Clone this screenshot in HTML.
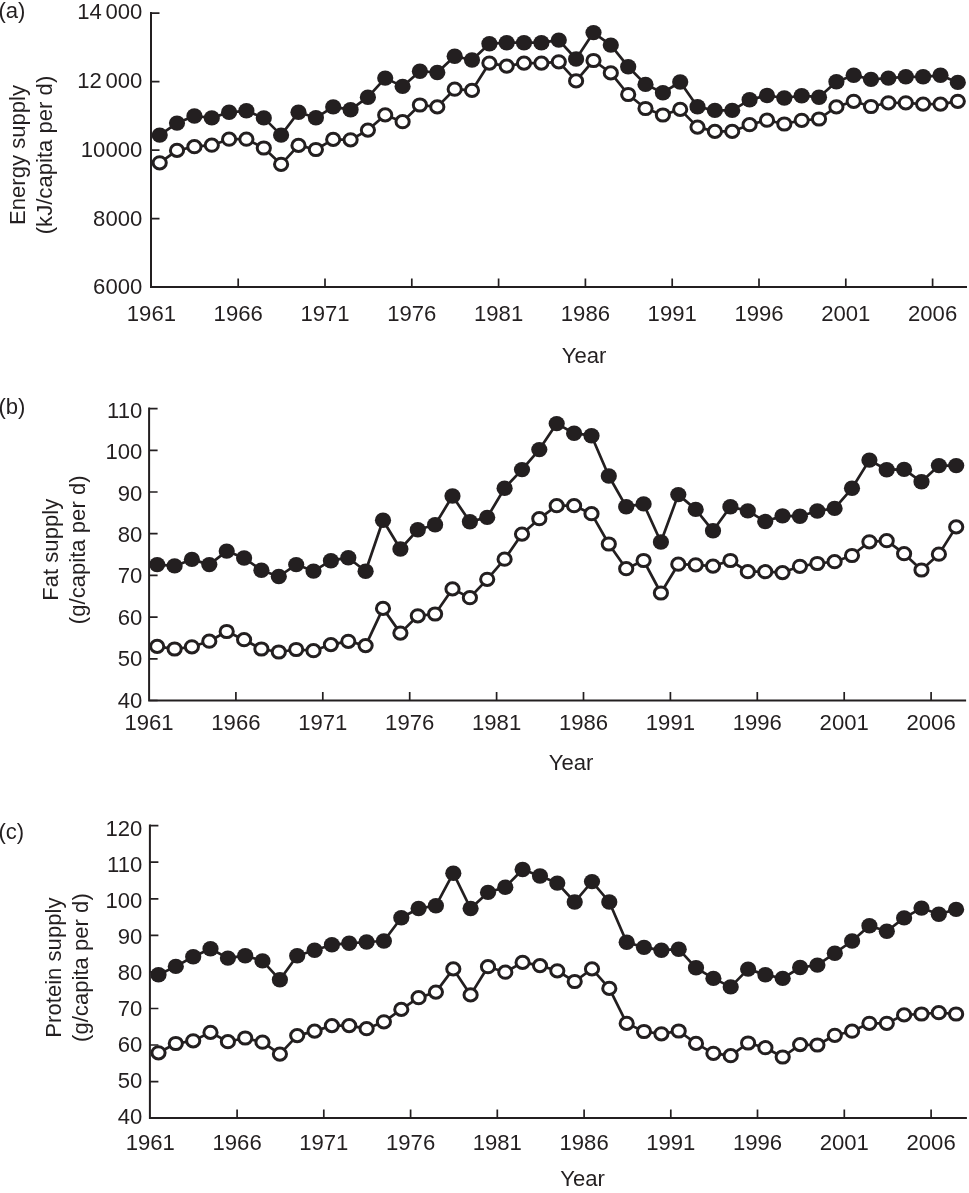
<!DOCTYPE html>
<html><head><meta charset="utf-8"><title>Energy, fat and protein supply 1961-2007</title>
<style>
html,body{margin:0;padding:0;background:#fff;}
body{width:969px;height:1193px;overflow:hidden;}
svg{display:block;}
text{font-family:"Liberation Sans", Arial, Helvetica, sans-serif;font-size:22.8px;fill:#231f20;}
</style></head><body>
<svg width="969" height="1193" viewBox="0 0 969 1193">
<rect width="969" height="1193" fill="#fff"/>
<g id="panel-a">
<path d="M151 12.1V287.1H967" fill="none" stroke="#231f20" stroke-width="2"/>
<path d="M151 13.1H159.5M151 81.6H159.5M151 150.1H159.5M151 218.6H159.5M151 287.1H159.5" stroke="#231f20" stroke-width="1.7"/>
<path d="M238.2 287.1V278.6M325 287.1V278.6M411.8 287.1V278.6M498.6 287.1V278.6M585.4 287.1V278.6M672.2 287.1V278.6M759 287.1V278.6M845.8 287.1V278.6M932.6 287.1V278.6" stroke="#231f20" stroke-width="1.7"/>
<text transform="translate(142.3 19) scale(0.97 1)" text-anchor="end">14 000</text>
<text transform="translate(142.3 87.8) scale(0.97 1)" text-anchor="end">12 000</text>
<text transform="translate(142.3 156.7) scale(0.97 1)" text-anchor="end">10000</text>
<text transform="translate(142.3 225.5) scale(0.97 1)" text-anchor="end">8000</text>
<text transform="translate(142.3 294.4) scale(0.97 1)" text-anchor="end">6000</text>
<text transform="translate(151.4 320.9) scale(0.97 1)" text-anchor="middle">1961</text>
<text transform="translate(238.2 320.9) scale(0.97 1)" text-anchor="middle">1966</text>
<text transform="translate(325 320.9) scale(0.97 1)" text-anchor="middle">1971</text>
<text transform="translate(411.8 320.9) scale(0.97 1)" text-anchor="middle">1976</text>
<text transform="translate(498.6 320.9) scale(0.97 1)" text-anchor="middle">1981</text>
<text transform="translate(585.4 320.9) scale(0.97 1)" text-anchor="middle">1986</text>
<text transform="translate(672.2 320.9) scale(0.97 1)" text-anchor="middle">1991</text>
<text transform="translate(759 320.9) scale(0.97 1)" text-anchor="middle">1996</text>
<text transform="translate(845.8 320.9) scale(0.97 1)" text-anchor="middle">2001</text>
<text transform="translate(932.6 320.9) scale(0.97 1)" text-anchor="middle">2006</text>
<text transform="translate(584.1 363.2) scale(0.97 1)" text-anchor="middle">Year</text>
<text transform="translate(-1.6 18) scale(0.97 1)">(a)</text>
<text transform="translate(24.9 155) rotate(-90) scale(0.97 1)" text-anchor="middle">Energy supply</text>
<text transform="translate(52 155) rotate(-90) scale(0.97 1)" text-anchor="middle">(kJ/capita per d)</text>
<polyline points="159.7,135.1 177,123.1 194.4,116 211.8,117.9 229.1,112.3 246.4,110.8 263.8,117.9 281.1,135.1 298.5,112.3 315.9,117.8 333.2,106.9 350.6,109.7 367.9,97.2 385.2,78.1 402.6,86.4 419.9,71.2 437.3,72.5 454.7,56.3 472,60 489.4,43.8 506.7,42.7 524,42.7 541.4,42.7 558.8,40.1 576.1,59 593.5,32.6 610.8,45.1 628.2,66.7 645.5,84.4 662.9,92.7 680.2,82 697.5,106.7 714.9,110.4 732.2,110.4 749.6,99.8 767,95.5 784.3,98 801.7,95.7 819,97.2 836.4,81.8 853.7,75.3 871,79.4 888.4,78.1 905.8,76.8 923.1,76.8 940.5,75.3 957.8,82.4" fill="none" stroke="#231f20" stroke-width="2.7" stroke-linejoin="round"/>
<polyline points="159.7,162.8 177,150.4 194.4,146.7 211.8,145.2 229.1,139.2 246.4,139.2 263.8,148 281.1,164.3 298.5,145.4 315.9,149.5 333.2,139.4 350.6,139.8 367.9,130.1 385.2,114.9 402.6,121.7 419.9,105 437.3,106.9 454.7,89.2 472,90.4 489.4,63.1 506.7,66.1 524,63.1 541.4,63.1 558.8,61.8 576.1,80.9 593.5,60.5 610.8,72.9 628.2,94.5 645.5,108.5 662.9,115 680.2,109.4 697.5,127.1 714.9,131.4 732.2,131.4 749.6,124.7 767,120.2 784.3,124 801.7,120.3 819,119 836.4,106.9 853.7,101.3 871,106.5 888.4,102.8 905.8,102.8 923.1,104.1 940.5,104.1 957.8,101.3" fill="none" stroke="#231f20" stroke-width="2.7" stroke-linejoin="round"/>
<ellipse cx="159.7" cy="135.1" rx="8.1" ry="7.7" fill="#231f20"/>
<ellipse cx="177" cy="123.1" rx="8.1" ry="7.7" fill="#231f20"/>
<ellipse cx="194.4" cy="116" rx="8.1" ry="7.7" fill="#231f20"/>
<ellipse cx="211.8" cy="117.9" rx="8.1" ry="7.7" fill="#231f20"/>
<ellipse cx="229.1" cy="112.3" rx="8.1" ry="7.7" fill="#231f20"/>
<ellipse cx="246.4" cy="110.8" rx="8.1" ry="7.7" fill="#231f20"/>
<ellipse cx="263.8" cy="117.9" rx="8.1" ry="7.7" fill="#231f20"/>
<ellipse cx="281.1" cy="135.1" rx="8.1" ry="7.7" fill="#231f20"/>
<ellipse cx="298.5" cy="112.3" rx="8.1" ry="7.7" fill="#231f20"/>
<ellipse cx="315.9" cy="117.8" rx="8.1" ry="7.7" fill="#231f20"/>
<ellipse cx="333.2" cy="106.9" rx="8.1" ry="7.7" fill="#231f20"/>
<ellipse cx="350.6" cy="109.7" rx="8.1" ry="7.7" fill="#231f20"/>
<ellipse cx="367.9" cy="97.2" rx="8.1" ry="7.7" fill="#231f20"/>
<ellipse cx="385.2" cy="78.1" rx="8.1" ry="7.7" fill="#231f20"/>
<ellipse cx="402.6" cy="86.4" rx="8.1" ry="7.7" fill="#231f20"/>
<ellipse cx="419.9" cy="71.2" rx="8.1" ry="7.7" fill="#231f20"/>
<ellipse cx="437.3" cy="72.5" rx="8.1" ry="7.7" fill="#231f20"/>
<ellipse cx="454.7" cy="56.3" rx="8.1" ry="7.7" fill="#231f20"/>
<ellipse cx="472" cy="60" rx="8.1" ry="7.7" fill="#231f20"/>
<ellipse cx="489.4" cy="43.8" rx="8.1" ry="7.7" fill="#231f20"/>
<ellipse cx="506.7" cy="42.7" rx="8.1" ry="7.7" fill="#231f20"/>
<ellipse cx="524" cy="42.7" rx="8.1" ry="7.7" fill="#231f20"/>
<ellipse cx="541.4" cy="42.7" rx="8.1" ry="7.7" fill="#231f20"/>
<ellipse cx="558.8" cy="40.1" rx="8.1" ry="7.7" fill="#231f20"/>
<ellipse cx="576.1" cy="59" rx="8.1" ry="7.7" fill="#231f20"/>
<ellipse cx="593.5" cy="32.6" rx="8.1" ry="7.7" fill="#231f20"/>
<ellipse cx="610.8" cy="45.1" rx="8.1" ry="7.7" fill="#231f20"/>
<ellipse cx="628.2" cy="66.7" rx="8.1" ry="7.7" fill="#231f20"/>
<ellipse cx="645.5" cy="84.4" rx="8.1" ry="7.7" fill="#231f20"/>
<ellipse cx="662.9" cy="92.7" rx="8.1" ry="7.7" fill="#231f20"/>
<ellipse cx="680.2" cy="82" rx="8.1" ry="7.7" fill="#231f20"/>
<ellipse cx="697.5" cy="106.7" rx="8.1" ry="7.7" fill="#231f20"/>
<ellipse cx="714.9" cy="110.4" rx="8.1" ry="7.7" fill="#231f20"/>
<ellipse cx="732.2" cy="110.4" rx="8.1" ry="7.7" fill="#231f20"/>
<ellipse cx="749.6" cy="99.8" rx="8.1" ry="7.7" fill="#231f20"/>
<ellipse cx="767" cy="95.5" rx="8.1" ry="7.7" fill="#231f20"/>
<ellipse cx="784.3" cy="98" rx="8.1" ry="7.7" fill="#231f20"/>
<ellipse cx="801.7" cy="95.7" rx="8.1" ry="7.7" fill="#231f20"/>
<ellipse cx="819" cy="97.2" rx="8.1" ry="7.7" fill="#231f20"/>
<ellipse cx="836.4" cy="81.8" rx="8.1" ry="7.7" fill="#231f20"/>
<ellipse cx="853.7" cy="75.3" rx="8.1" ry="7.7" fill="#231f20"/>
<ellipse cx="871" cy="79.4" rx="8.1" ry="7.7" fill="#231f20"/>
<ellipse cx="888.4" cy="78.1" rx="8.1" ry="7.7" fill="#231f20"/>
<ellipse cx="905.8" cy="76.8" rx="8.1" ry="7.7" fill="#231f20"/>
<ellipse cx="923.1" cy="76.8" rx="8.1" ry="7.7" fill="#231f20"/>
<ellipse cx="940.5" cy="75.3" rx="8.1" ry="7.7" fill="#231f20"/>
<ellipse cx="957.8" cy="82.4" rx="8.1" ry="7.7" fill="#231f20"/>
<ellipse cx="159.7" cy="162.8" rx="6.6" ry="6.1" fill="#fff" stroke="#231f20" stroke-width="3"/>
<ellipse cx="177" cy="150.4" rx="6.6" ry="6.1" fill="#fff" stroke="#231f20" stroke-width="3"/>
<ellipse cx="194.4" cy="146.7" rx="6.6" ry="6.1" fill="#fff" stroke="#231f20" stroke-width="3"/>
<ellipse cx="211.8" cy="145.2" rx="6.6" ry="6.1" fill="#fff" stroke="#231f20" stroke-width="3"/>
<ellipse cx="229.1" cy="139.2" rx="6.6" ry="6.1" fill="#fff" stroke="#231f20" stroke-width="3"/>
<ellipse cx="246.4" cy="139.2" rx="6.6" ry="6.1" fill="#fff" stroke="#231f20" stroke-width="3"/>
<ellipse cx="263.8" cy="148" rx="6.6" ry="6.1" fill="#fff" stroke="#231f20" stroke-width="3"/>
<ellipse cx="281.1" cy="164.3" rx="6.6" ry="6.1" fill="#fff" stroke="#231f20" stroke-width="3"/>
<ellipse cx="298.5" cy="145.4" rx="6.6" ry="6.1" fill="#fff" stroke="#231f20" stroke-width="3"/>
<ellipse cx="315.9" cy="149.5" rx="6.6" ry="6.1" fill="#fff" stroke="#231f20" stroke-width="3"/>
<ellipse cx="333.2" cy="139.4" rx="6.6" ry="6.1" fill="#fff" stroke="#231f20" stroke-width="3"/>
<ellipse cx="350.6" cy="139.8" rx="6.6" ry="6.1" fill="#fff" stroke="#231f20" stroke-width="3"/>
<ellipse cx="367.9" cy="130.1" rx="6.6" ry="6.1" fill="#fff" stroke="#231f20" stroke-width="3"/>
<ellipse cx="385.2" cy="114.9" rx="6.6" ry="6.1" fill="#fff" stroke="#231f20" stroke-width="3"/>
<ellipse cx="402.6" cy="121.7" rx="6.6" ry="6.1" fill="#fff" stroke="#231f20" stroke-width="3"/>
<ellipse cx="419.9" cy="105" rx="6.6" ry="6.1" fill="#fff" stroke="#231f20" stroke-width="3"/>
<ellipse cx="437.3" cy="106.9" rx="6.6" ry="6.1" fill="#fff" stroke="#231f20" stroke-width="3"/>
<ellipse cx="454.7" cy="89.2" rx="6.6" ry="6.1" fill="#fff" stroke="#231f20" stroke-width="3"/>
<ellipse cx="472" cy="90.4" rx="6.6" ry="6.1" fill="#fff" stroke="#231f20" stroke-width="3"/>
<ellipse cx="489.4" cy="63.1" rx="6.6" ry="6.1" fill="#fff" stroke="#231f20" stroke-width="3"/>
<ellipse cx="506.7" cy="66.1" rx="6.6" ry="6.1" fill="#fff" stroke="#231f20" stroke-width="3"/>
<ellipse cx="524" cy="63.1" rx="6.6" ry="6.1" fill="#fff" stroke="#231f20" stroke-width="3"/>
<ellipse cx="541.4" cy="63.1" rx="6.6" ry="6.1" fill="#fff" stroke="#231f20" stroke-width="3"/>
<ellipse cx="558.8" cy="61.8" rx="6.6" ry="6.1" fill="#fff" stroke="#231f20" stroke-width="3"/>
<ellipse cx="576.1" cy="80.9" rx="6.6" ry="6.1" fill="#fff" stroke="#231f20" stroke-width="3"/>
<ellipse cx="593.5" cy="60.5" rx="6.6" ry="6.1" fill="#fff" stroke="#231f20" stroke-width="3"/>
<ellipse cx="610.8" cy="72.9" rx="6.6" ry="6.1" fill="#fff" stroke="#231f20" stroke-width="3"/>
<ellipse cx="628.2" cy="94.5" rx="6.6" ry="6.1" fill="#fff" stroke="#231f20" stroke-width="3"/>
<ellipse cx="645.5" cy="108.5" rx="6.6" ry="6.1" fill="#fff" stroke="#231f20" stroke-width="3"/>
<ellipse cx="662.9" cy="115" rx="6.6" ry="6.1" fill="#fff" stroke="#231f20" stroke-width="3"/>
<ellipse cx="680.2" cy="109.4" rx="6.6" ry="6.1" fill="#fff" stroke="#231f20" stroke-width="3"/>
<ellipse cx="697.5" cy="127.1" rx="6.6" ry="6.1" fill="#fff" stroke="#231f20" stroke-width="3"/>
<ellipse cx="714.9" cy="131.4" rx="6.6" ry="6.1" fill="#fff" stroke="#231f20" stroke-width="3"/>
<ellipse cx="732.2" cy="131.4" rx="6.6" ry="6.1" fill="#fff" stroke="#231f20" stroke-width="3"/>
<ellipse cx="749.6" cy="124.7" rx="6.6" ry="6.1" fill="#fff" stroke="#231f20" stroke-width="3"/>
<ellipse cx="767" cy="120.2" rx="6.6" ry="6.1" fill="#fff" stroke="#231f20" stroke-width="3"/>
<ellipse cx="784.3" cy="124" rx="6.6" ry="6.1" fill="#fff" stroke="#231f20" stroke-width="3"/>
<ellipse cx="801.7" cy="120.3" rx="6.6" ry="6.1" fill="#fff" stroke="#231f20" stroke-width="3"/>
<ellipse cx="819" cy="119" rx="6.6" ry="6.1" fill="#fff" stroke="#231f20" stroke-width="3"/>
<ellipse cx="836.4" cy="106.9" rx="6.6" ry="6.1" fill="#fff" stroke="#231f20" stroke-width="3"/>
<ellipse cx="853.7" cy="101.3" rx="6.6" ry="6.1" fill="#fff" stroke="#231f20" stroke-width="3"/>
<ellipse cx="871" cy="106.5" rx="6.6" ry="6.1" fill="#fff" stroke="#231f20" stroke-width="3"/>
<ellipse cx="888.4" cy="102.8" rx="6.6" ry="6.1" fill="#fff" stroke="#231f20" stroke-width="3"/>
<ellipse cx="905.8" cy="102.8" rx="6.6" ry="6.1" fill="#fff" stroke="#231f20" stroke-width="3"/>
<ellipse cx="923.1" cy="104.1" rx="6.6" ry="6.1" fill="#fff" stroke="#231f20" stroke-width="3"/>
<ellipse cx="940.5" cy="104.1" rx="6.6" ry="6.1" fill="#fff" stroke="#231f20" stroke-width="3"/>
<ellipse cx="957.8" cy="101.3" rx="6.6" ry="6.1" fill="#fff" stroke="#231f20" stroke-width="3"/>
</g>
<g id="panel-b">
<path d="M149.1 407.6V700.5H966.1" fill="none" stroke="#231f20" stroke-width="2"/>
<path d="M149.1 408.6H157.6M149.1 450.3H157.6M149.1 492H157.6M149.1 533.7H157.6M149.1 575.4H157.6M149.1 617.1H157.6M149.1 658.8H157.6M149.1 700.5H157.6" stroke="#231f20" stroke-width="1.7"/>
<path d="M235.9 700.5V692M322.8 700.5V692M409.7 700.5V692M496.6 700.5V692M583.5 700.5V692M670.4 700.5V692M757.3 700.5V692M844.2 700.5V692M931.1 700.5V692" stroke="#231f20" stroke-width="1.7"/>
<text transform="translate(142.3 417.6) scale(0.97 1)" text-anchor="end">110</text>
<text transform="translate(142.3 459) scale(0.97 1)" text-anchor="end">100</text>
<text transform="translate(142.3 500.5) scale(0.97 1)" text-anchor="end">90</text>
<text transform="translate(142.3 541.9) scale(0.97 1)" text-anchor="end">80</text>
<text transform="translate(142.3 583.3) scale(0.97 1)" text-anchor="end">70</text>
<text transform="translate(142.3 624.8) scale(0.97 1)" text-anchor="end">60</text>
<text transform="translate(142.3 666.2) scale(0.97 1)" text-anchor="end">50</text>
<text transform="translate(142.3 707.6) scale(0.97 1)" text-anchor="end">40</text>
<text transform="translate(149 730.4) scale(0.97 1)" text-anchor="middle">1961</text>
<text transform="translate(235.9 730.4) scale(0.97 1)" text-anchor="middle">1966</text>
<text transform="translate(322.8 730.4) scale(0.97 1)" text-anchor="middle">1971</text>
<text transform="translate(409.7 730.4) scale(0.97 1)" text-anchor="middle">1976</text>
<text transform="translate(496.6 730.4) scale(0.97 1)" text-anchor="middle">1981</text>
<text transform="translate(583.5 730.4) scale(0.97 1)" text-anchor="middle">1986</text>
<text transform="translate(670.4 730.4) scale(0.97 1)" text-anchor="middle">1991</text>
<text transform="translate(757.3 730.4) scale(0.97 1)" text-anchor="middle">1996</text>
<text transform="translate(844.2 730.4) scale(0.97 1)" text-anchor="middle">2001</text>
<text transform="translate(931.1 730.4) scale(0.97 1)" text-anchor="middle">2006</text>
<text transform="translate(571.1 769.5) scale(0.97 1)" text-anchor="middle">Year</text>
<text transform="translate(-1.6 414.1) scale(0.97 1)">(b)</text>
<text transform="translate(58.3 549.8) rotate(-90) scale(0.97 1)" text-anchor="middle">Fat supply</text>
<text transform="translate(85.4 549.8) rotate(-90) scale(0.97 1)" text-anchor="middle">(g/capita per d)</text>
<polyline points="157.2,564.6 174.6,565.9 191.9,559.4 209.3,564.6 226.7,551.1 244.1,558 261.4,570.2 278.8,576.5 296.2,564.6 313.5,571.1 330.9,560.7 348.3,557.7 365.6,571.2 383,520.2 400.4,549 417.8,529.8 435.1,524.8 452.5,496 469.9,521.8 487.2,517.4 504.6,488.2 522,469.6 539.3,449.6 556.7,423.6 574.1,433.2 591.5,435.7 608.8,476 626.2,506.7 643.6,503.9 660.9,542 678.3,494.6 695.7,509.4 713,530.8 730.4,506.7 747.8,510.9 765.2,521.5 782.5,515.9 799.9,516.2 817.3,511 834.6,508.4 852,488.3 869.4,460.1 886.7,469.7 904.1,469.4 921.5,481.8 938.9,465.6 956.2,465.6" fill="none" stroke="#231f20" stroke-width="2.7" stroke-linejoin="round"/>
<polyline points="157.2,646.4 174.6,649 191.9,646.8 209.3,641.2 226.7,631.5 244.1,639.7 261.4,649 278.8,652 296.2,649.5 313.5,650.7 330.9,644.6 348.3,641.3 365.6,645.6 383,608.4 400.4,633.1 417.8,615.8 435.1,614 452.5,588.9 469.9,597.7 487.2,579.3 504.6,559.2 522,534.1 539.3,518.7 556.7,505.7 574.1,505.7 591.5,513.7 608.8,544 626.2,568.7 643.6,560.5 660.9,593 678.3,564.2 695.7,564.8 713,566.1 730.4,560.5 747.8,571.7 765.2,571.7 782.5,572.6 799.9,566.3 817.3,563.5 834.6,561.7 852,555.5 869.4,541.8 886.7,540.7 904.1,553.7 921.5,570 938.9,554.2 956.2,526.9" fill="none" stroke="#231f20" stroke-width="2.7" stroke-linejoin="round"/>
<ellipse cx="157.2" cy="564.6" rx="8.1" ry="7.7" fill="#231f20"/>
<ellipse cx="174.6" cy="565.9" rx="8.1" ry="7.7" fill="#231f20"/>
<ellipse cx="191.9" cy="559.4" rx="8.1" ry="7.7" fill="#231f20"/>
<ellipse cx="209.3" cy="564.6" rx="8.1" ry="7.7" fill="#231f20"/>
<ellipse cx="226.7" cy="551.1" rx="8.1" ry="7.7" fill="#231f20"/>
<ellipse cx="244.1" cy="558" rx="8.1" ry="7.7" fill="#231f20"/>
<ellipse cx="261.4" cy="570.2" rx="8.1" ry="7.7" fill="#231f20"/>
<ellipse cx="278.8" cy="576.5" rx="8.1" ry="7.7" fill="#231f20"/>
<ellipse cx="296.2" cy="564.6" rx="8.1" ry="7.7" fill="#231f20"/>
<ellipse cx="313.5" cy="571.1" rx="8.1" ry="7.7" fill="#231f20"/>
<ellipse cx="330.9" cy="560.7" rx="8.1" ry="7.7" fill="#231f20"/>
<ellipse cx="348.3" cy="557.7" rx="8.1" ry="7.7" fill="#231f20"/>
<ellipse cx="365.6" cy="571.2" rx="8.1" ry="7.7" fill="#231f20"/>
<ellipse cx="383" cy="520.2" rx="8.1" ry="7.7" fill="#231f20"/>
<ellipse cx="400.4" cy="549" rx="8.1" ry="7.7" fill="#231f20"/>
<ellipse cx="417.8" cy="529.8" rx="8.1" ry="7.7" fill="#231f20"/>
<ellipse cx="435.1" cy="524.8" rx="8.1" ry="7.7" fill="#231f20"/>
<ellipse cx="452.5" cy="496" rx="8.1" ry="7.7" fill="#231f20"/>
<ellipse cx="469.9" cy="521.8" rx="8.1" ry="7.7" fill="#231f20"/>
<ellipse cx="487.2" cy="517.4" rx="8.1" ry="7.7" fill="#231f20"/>
<ellipse cx="504.6" cy="488.2" rx="8.1" ry="7.7" fill="#231f20"/>
<ellipse cx="522" cy="469.6" rx="8.1" ry="7.7" fill="#231f20"/>
<ellipse cx="539.3" cy="449.6" rx="8.1" ry="7.7" fill="#231f20"/>
<ellipse cx="556.7" cy="423.6" rx="8.1" ry="7.7" fill="#231f20"/>
<ellipse cx="574.1" cy="433.2" rx="8.1" ry="7.7" fill="#231f20"/>
<ellipse cx="591.5" cy="435.7" rx="8.1" ry="7.7" fill="#231f20"/>
<ellipse cx="608.8" cy="476" rx="8.1" ry="7.7" fill="#231f20"/>
<ellipse cx="626.2" cy="506.7" rx="8.1" ry="7.7" fill="#231f20"/>
<ellipse cx="643.6" cy="503.9" rx="8.1" ry="7.7" fill="#231f20"/>
<ellipse cx="660.9" cy="542" rx="8.1" ry="7.7" fill="#231f20"/>
<ellipse cx="678.3" cy="494.6" rx="8.1" ry="7.7" fill="#231f20"/>
<ellipse cx="695.7" cy="509.4" rx="8.1" ry="7.7" fill="#231f20"/>
<ellipse cx="713" cy="530.8" rx="8.1" ry="7.7" fill="#231f20"/>
<ellipse cx="730.4" cy="506.7" rx="8.1" ry="7.7" fill="#231f20"/>
<ellipse cx="747.8" cy="510.9" rx="8.1" ry="7.7" fill="#231f20"/>
<ellipse cx="765.2" cy="521.5" rx="8.1" ry="7.7" fill="#231f20"/>
<ellipse cx="782.5" cy="515.9" rx="8.1" ry="7.7" fill="#231f20"/>
<ellipse cx="799.9" cy="516.2" rx="8.1" ry="7.7" fill="#231f20"/>
<ellipse cx="817.3" cy="511" rx="8.1" ry="7.7" fill="#231f20"/>
<ellipse cx="834.6" cy="508.4" rx="8.1" ry="7.7" fill="#231f20"/>
<ellipse cx="852" cy="488.3" rx="8.1" ry="7.7" fill="#231f20"/>
<ellipse cx="869.4" cy="460.1" rx="8.1" ry="7.7" fill="#231f20"/>
<ellipse cx="886.7" cy="469.7" rx="8.1" ry="7.7" fill="#231f20"/>
<ellipse cx="904.1" cy="469.4" rx="8.1" ry="7.7" fill="#231f20"/>
<ellipse cx="921.5" cy="481.8" rx="8.1" ry="7.7" fill="#231f20"/>
<ellipse cx="938.9" cy="465.6" rx="8.1" ry="7.7" fill="#231f20"/>
<ellipse cx="956.2" cy="465.6" rx="8.1" ry="7.7" fill="#231f20"/>
<ellipse cx="157.2" cy="646.4" rx="6.6" ry="6.1" fill="#fff" stroke="#231f20" stroke-width="3"/>
<ellipse cx="174.6" cy="649" rx="6.6" ry="6.1" fill="#fff" stroke="#231f20" stroke-width="3"/>
<ellipse cx="191.9" cy="646.8" rx="6.6" ry="6.1" fill="#fff" stroke="#231f20" stroke-width="3"/>
<ellipse cx="209.3" cy="641.2" rx="6.6" ry="6.1" fill="#fff" stroke="#231f20" stroke-width="3"/>
<ellipse cx="226.7" cy="631.5" rx="6.6" ry="6.1" fill="#fff" stroke="#231f20" stroke-width="3"/>
<ellipse cx="244.1" cy="639.7" rx="6.6" ry="6.1" fill="#fff" stroke="#231f20" stroke-width="3"/>
<ellipse cx="261.4" cy="649" rx="6.6" ry="6.1" fill="#fff" stroke="#231f20" stroke-width="3"/>
<ellipse cx="278.8" cy="652" rx="6.6" ry="6.1" fill="#fff" stroke="#231f20" stroke-width="3"/>
<ellipse cx="296.2" cy="649.5" rx="6.6" ry="6.1" fill="#fff" stroke="#231f20" stroke-width="3"/>
<ellipse cx="313.5" cy="650.7" rx="6.6" ry="6.1" fill="#fff" stroke="#231f20" stroke-width="3"/>
<ellipse cx="330.9" cy="644.6" rx="6.6" ry="6.1" fill="#fff" stroke="#231f20" stroke-width="3"/>
<ellipse cx="348.3" cy="641.3" rx="6.6" ry="6.1" fill="#fff" stroke="#231f20" stroke-width="3"/>
<ellipse cx="365.6" cy="645.6" rx="6.6" ry="6.1" fill="#fff" stroke="#231f20" stroke-width="3"/>
<ellipse cx="383" cy="608.4" rx="6.6" ry="6.1" fill="#fff" stroke="#231f20" stroke-width="3"/>
<ellipse cx="400.4" cy="633.1" rx="6.6" ry="6.1" fill="#fff" stroke="#231f20" stroke-width="3"/>
<ellipse cx="417.8" cy="615.8" rx="6.6" ry="6.1" fill="#fff" stroke="#231f20" stroke-width="3"/>
<ellipse cx="435.1" cy="614" rx="6.6" ry="6.1" fill="#fff" stroke="#231f20" stroke-width="3"/>
<ellipse cx="452.5" cy="588.9" rx="6.6" ry="6.1" fill="#fff" stroke="#231f20" stroke-width="3"/>
<ellipse cx="469.9" cy="597.7" rx="6.6" ry="6.1" fill="#fff" stroke="#231f20" stroke-width="3"/>
<ellipse cx="487.2" cy="579.3" rx="6.6" ry="6.1" fill="#fff" stroke="#231f20" stroke-width="3"/>
<ellipse cx="504.6" cy="559.2" rx="6.6" ry="6.1" fill="#fff" stroke="#231f20" stroke-width="3"/>
<ellipse cx="522" cy="534.1" rx="6.6" ry="6.1" fill="#fff" stroke="#231f20" stroke-width="3"/>
<ellipse cx="539.3" cy="518.7" rx="6.6" ry="6.1" fill="#fff" stroke="#231f20" stroke-width="3"/>
<ellipse cx="556.7" cy="505.7" rx="6.6" ry="6.1" fill="#fff" stroke="#231f20" stroke-width="3"/>
<ellipse cx="574.1" cy="505.7" rx="6.6" ry="6.1" fill="#fff" stroke="#231f20" stroke-width="3"/>
<ellipse cx="591.5" cy="513.7" rx="6.6" ry="6.1" fill="#fff" stroke="#231f20" stroke-width="3"/>
<ellipse cx="608.8" cy="544" rx="6.6" ry="6.1" fill="#fff" stroke="#231f20" stroke-width="3"/>
<ellipse cx="626.2" cy="568.7" rx="6.6" ry="6.1" fill="#fff" stroke="#231f20" stroke-width="3"/>
<ellipse cx="643.6" cy="560.5" rx="6.6" ry="6.1" fill="#fff" stroke="#231f20" stroke-width="3"/>
<ellipse cx="660.9" cy="593" rx="6.6" ry="6.1" fill="#fff" stroke="#231f20" stroke-width="3"/>
<ellipse cx="678.3" cy="564.2" rx="6.6" ry="6.1" fill="#fff" stroke="#231f20" stroke-width="3"/>
<ellipse cx="695.7" cy="564.8" rx="6.6" ry="6.1" fill="#fff" stroke="#231f20" stroke-width="3"/>
<ellipse cx="713" cy="566.1" rx="6.6" ry="6.1" fill="#fff" stroke="#231f20" stroke-width="3"/>
<ellipse cx="730.4" cy="560.5" rx="6.6" ry="6.1" fill="#fff" stroke="#231f20" stroke-width="3"/>
<ellipse cx="747.8" cy="571.7" rx="6.6" ry="6.1" fill="#fff" stroke="#231f20" stroke-width="3"/>
<ellipse cx="765.2" cy="571.7" rx="6.6" ry="6.1" fill="#fff" stroke="#231f20" stroke-width="3"/>
<ellipse cx="782.5" cy="572.6" rx="6.6" ry="6.1" fill="#fff" stroke="#231f20" stroke-width="3"/>
<ellipse cx="799.9" cy="566.3" rx="6.6" ry="6.1" fill="#fff" stroke="#231f20" stroke-width="3"/>
<ellipse cx="817.3" cy="563.5" rx="6.6" ry="6.1" fill="#fff" stroke="#231f20" stroke-width="3"/>
<ellipse cx="834.6" cy="561.7" rx="6.6" ry="6.1" fill="#fff" stroke="#231f20" stroke-width="3"/>
<ellipse cx="852" cy="555.5" rx="6.6" ry="6.1" fill="#fff" stroke="#231f20" stroke-width="3"/>
<ellipse cx="869.4" cy="541.8" rx="6.6" ry="6.1" fill="#fff" stroke="#231f20" stroke-width="3"/>
<ellipse cx="886.7" cy="540.7" rx="6.6" ry="6.1" fill="#fff" stroke="#231f20" stroke-width="3"/>
<ellipse cx="904.1" cy="553.7" rx="6.6" ry="6.1" fill="#fff" stroke="#231f20" stroke-width="3"/>
<ellipse cx="921.5" cy="570" rx="6.6" ry="6.1" fill="#fff" stroke="#231f20" stroke-width="3"/>
<ellipse cx="938.9" cy="554.2" rx="6.6" ry="6.1" fill="#fff" stroke="#231f20" stroke-width="3"/>
<ellipse cx="956.2" cy="526.9" rx="6.6" ry="6.1" fill="#fff" stroke="#231f20" stroke-width="3"/>
</g>
<g id="panel-c">
<path d="M149.9 824.6V1118.1H966.9" fill="none" stroke="#231f20" stroke-width="2"/>
<path d="M149.9 825.6H158.4M149.9 862.2H158.4M149.9 898.8H158.4M149.9 935.3H158.4M149.9 971.9H158.4M149.9 1008.5H158.4M149.9 1045H158.4M149.9 1081.6H158.4M149.9 1118.1H158.4" stroke="#231f20" stroke-width="1.7"/>
<path d="M237.1 1118.1V1109.6M323.8 1118.1V1109.6M410.6 1118.1V1109.6M497.3 1118.1V1109.6M584.1 1118.1V1109.6M670.8 1118.1V1109.6M757.5 1118.1V1109.6M844.3 1118.1V1109.6M931.1 1118.1V1109.6" stroke="#231f20" stroke-width="1.7"/>
<text transform="translate(142.3 836.1) scale(0.97 1)" text-anchor="end">120</text>
<text transform="translate(142.3 872.1) scale(0.97 1)" text-anchor="end">110</text>
<text transform="translate(142.3 908.2) scale(0.97 1)" text-anchor="end">100</text>
<text transform="translate(142.3 944.2) scale(0.97 1)" text-anchor="end">90</text>
<text transform="translate(142.3 980.3) scale(0.97 1)" text-anchor="end">80</text>
<text transform="translate(142.3 1016.3) scale(0.97 1)" text-anchor="end">70</text>
<text transform="translate(142.3 1052.3) scale(0.97 1)" text-anchor="end">60</text>
<text transform="translate(142.3 1088.4) scale(0.97 1)" text-anchor="end">50</text>
<text transform="translate(142.3 1124.4) scale(0.97 1)" text-anchor="end">40</text>
<text transform="translate(150.3 1150.4) scale(0.97 1)" text-anchor="middle">1961</text>
<text transform="translate(237.1 1150.4) scale(0.97 1)" text-anchor="middle">1966</text>
<text transform="translate(323.8 1150.4) scale(0.97 1)" text-anchor="middle">1971</text>
<text transform="translate(410.6 1150.4) scale(0.97 1)" text-anchor="middle">1976</text>
<text transform="translate(497.3 1150.4) scale(0.97 1)" text-anchor="middle">1981</text>
<text transform="translate(584.1 1150.4) scale(0.97 1)" text-anchor="middle">1986</text>
<text transform="translate(670.8 1150.4) scale(0.97 1)" text-anchor="middle">1991</text>
<text transform="translate(757.5 1150.4) scale(0.97 1)" text-anchor="middle">1996</text>
<text transform="translate(844.3 1150.4) scale(0.97 1)" text-anchor="middle">2001</text>
<text transform="translate(931.1 1150.4) scale(0.97 1)" text-anchor="middle">2006</text>
<text transform="translate(582.5 1185.7) scale(0.97 1)" text-anchor="middle">Year</text>
<text transform="translate(-1.6 838.5) scale(0.97 1)">(c)</text>
<text transform="translate(60.5 967.6) rotate(-90) scale(0.97 1)" text-anchor="middle">Protein supply</text>
<text transform="translate(87.7 967.6) rotate(-90) scale(0.97 1)" text-anchor="middle">(g/capita per d)</text>
<polyline points="158.5,974.8 175.8,966.4 193.2,956.8 210.5,948.8 227.9,958.1 245.2,955.7 262.5,960.9 279.9,979.8 297.2,955.7 314.6,950.2 331.9,944.7 349.2,943.3 366.6,942 383.9,941 401.3,917.8 418.6,908.5 435.9,905.7 453.3,873.2 470.6,908.5 488,892.4 505.3,887.2 522.6,869.5 540,876 557.3,883.1 574.7,902 592,881.6 609.3,902 626.7,942.2 644,947.4 661.4,950.2 678.7,949.2 696,967.8 713.4,978.4 730.7,986.9 748.1,969.1 765.4,974.7 782.7,978.4 800.1,967.5 817.4,965.1 834.8,953.2 852.1,941 869.4,925.7 886.8,931.3 904.1,917.9 921.5,908.1 938.8,914.2 956.1,909.4" fill="none" stroke="#231f20" stroke-width="2.7" stroke-linejoin="round"/>
<polyline points="158.5,1052.8 175.8,1043.5 193.2,1040.8 210.5,1032.4 227.9,1041.7 245.2,1038 262.5,1042.2 279.9,1054.1 297.2,1035.6 314.6,1031.1 331.9,1025.6 349.2,1025.6 366.6,1028.7 383.9,1021.8 401.3,1009.4 418.6,997.7 435.9,992.1 453.3,968.9 470.6,994.9 488,966.7 505.3,972.2 522.6,962.4 540,965.6 557.3,970.8 574.7,981.5 592,968.9 609.3,988.4 626.7,1023.4 644,1031.5 661.4,1033.8 678.7,1031 696,1043.4 713.4,1053.3 730.7,1055.7 748.1,1043 765.4,1047.7 782.7,1057 800.1,1044.6 817.4,1045 834.8,1035.3 852.1,1031.2 869.4,1023.3 886.8,1023.3 904.1,1014.9 921.5,1014 938.8,1012.7 956.1,1014" fill="none" stroke="#231f20" stroke-width="2.7" stroke-linejoin="round"/>
<ellipse cx="158.5" cy="974.8" rx="8.1" ry="7.7" fill="#231f20"/>
<ellipse cx="175.8" cy="966.4" rx="8.1" ry="7.7" fill="#231f20"/>
<ellipse cx="193.2" cy="956.8" rx="8.1" ry="7.7" fill="#231f20"/>
<ellipse cx="210.5" cy="948.8" rx="8.1" ry="7.7" fill="#231f20"/>
<ellipse cx="227.9" cy="958.1" rx="8.1" ry="7.7" fill="#231f20"/>
<ellipse cx="245.2" cy="955.7" rx="8.1" ry="7.7" fill="#231f20"/>
<ellipse cx="262.5" cy="960.9" rx="8.1" ry="7.7" fill="#231f20"/>
<ellipse cx="279.9" cy="979.8" rx="8.1" ry="7.7" fill="#231f20"/>
<ellipse cx="297.2" cy="955.7" rx="8.1" ry="7.7" fill="#231f20"/>
<ellipse cx="314.6" cy="950.2" rx="8.1" ry="7.7" fill="#231f20"/>
<ellipse cx="331.9" cy="944.7" rx="8.1" ry="7.7" fill="#231f20"/>
<ellipse cx="349.2" cy="943.3" rx="8.1" ry="7.7" fill="#231f20"/>
<ellipse cx="366.6" cy="942" rx="8.1" ry="7.7" fill="#231f20"/>
<ellipse cx="383.9" cy="941" rx="8.1" ry="7.7" fill="#231f20"/>
<ellipse cx="401.3" cy="917.8" rx="8.1" ry="7.7" fill="#231f20"/>
<ellipse cx="418.6" cy="908.5" rx="8.1" ry="7.7" fill="#231f20"/>
<ellipse cx="435.9" cy="905.7" rx="8.1" ry="7.7" fill="#231f20"/>
<ellipse cx="453.3" cy="873.2" rx="8.1" ry="7.7" fill="#231f20"/>
<ellipse cx="470.6" cy="908.5" rx="8.1" ry="7.7" fill="#231f20"/>
<ellipse cx="488" cy="892.4" rx="8.1" ry="7.7" fill="#231f20"/>
<ellipse cx="505.3" cy="887.2" rx="8.1" ry="7.7" fill="#231f20"/>
<ellipse cx="522.6" cy="869.5" rx="8.1" ry="7.7" fill="#231f20"/>
<ellipse cx="540" cy="876" rx="8.1" ry="7.7" fill="#231f20"/>
<ellipse cx="557.3" cy="883.1" rx="8.1" ry="7.7" fill="#231f20"/>
<ellipse cx="574.7" cy="902" rx="8.1" ry="7.7" fill="#231f20"/>
<ellipse cx="592" cy="881.6" rx="8.1" ry="7.7" fill="#231f20"/>
<ellipse cx="609.3" cy="902" rx="8.1" ry="7.7" fill="#231f20"/>
<ellipse cx="626.7" cy="942.2" rx="8.1" ry="7.7" fill="#231f20"/>
<ellipse cx="644" cy="947.4" rx="8.1" ry="7.7" fill="#231f20"/>
<ellipse cx="661.4" cy="950.2" rx="8.1" ry="7.7" fill="#231f20"/>
<ellipse cx="678.7" cy="949.2" rx="8.1" ry="7.7" fill="#231f20"/>
<ellipse cx="696" cy="967.8" rx="8.1" ry="7.7" fill="#231f20"/>
<ellipse cx="713.4" cy="978.4" rx="8.1" ry="7.7" fill="#231f20"/>
<ellipse cx="730.7" cy="986.9" rx="8.1" ry="7.7" fill="#231f20"/>
<ellipse cx="748.1" cy="969.1" rx="8.1" ry="7.7" fill="#231f20"/>
<ellipse cx="765.4" cy="974.7" rx="8.1" ry="7.7" fill="#231f20"/>
<ellipse cx="782.7" cy="978.4" rx="8.1" ry="7.7" fill="#231f20"/>
<ellipse cx="800.1" cy="967.5" rx="8.1" ry="7.7" fill="#231f20"/>
<ellipse cx="817.4" cy="965.1" rx="8.1" ry="7.7" fill="#231f20"/>
<ellipse cx="834.8" cy="953.2" rx="8.1" ry="7.7" fill="#231f20"/>
<ellipse cx="852.1" cy="941" rx="8.1" ry="7.7" fill="#231f20"/>
<ellipse cx="869.4" cy="925.7" rx="8.1" ry="7.7" fill="#231f20"/>
<ellipse cx="886.8" cy="931.3" rx="8.1" ry="7.7" fill="#231f20"/>
<ellipse cx="904.1" cy="917.9" rx="8.1" ry="7.7" fill="#231f20"/>
<ellipse cx="921.5" cy="908.1" rx="8.1" ry="7.7" fill="#231f20"/>
<ellipse cx="938.8" cy="914.2" rx="8.1" ry="7.7" fill="#231f20"/>
<ellipse cx="956.1" cy="909.4" rx="8.1" ry="7.7" fill="#231f20"/>
<ellipse cx="158.5" cy="1052.8" rx="6.6" ry="6.1" fill="#fff" stroke="#231f20" stroke-width="3"/>
<ellipse cx="175.8" cy="1043.5" rx="6.6" ry="6.1" fill="#fff" stroke="#231f20" stroke-width="3"/>
<ellipse cx="193.2" cy="1040.8" rx="6.6" ry="6.1" fill="#fff" stroke="#231f20" stroke-width="3"/>
<ellipse cx="210.5" cy="1032.4" rx="6.6" ry="6.1" fill="#fff" stroke="#231f20" stroke-width="3"/>
<ellipse cx="227.9" cy="1041.7" rx="6.6" ry="6.1" fill="#fff" stroke="#231f20" stroke-width="3"/>
<ellipse cx="245.2" cy="1038" rx="6.6" ry="6.1" fill="#fff" stroke="#231f20" stroke-width="3"/>
<ellipse cx="262.5" cy="1042.2" rx="6.6" ry="6.1" fill="#fff" stroke="#231f20" stroke-width="3"/>
<ellipse cx="279.9" cy="1054.1" rx="6.6" ry="6.1" fill="#fff" stroke="#231f20" stroke-width="3"/>
<ellipse cx="297.2" cy="1035.6" rx="6.6" ry="6.1" fill="#fff" stroke="#231f20" stroke-width="3"/>
<ellipse cx="314.6" cy="1031.1" rx="6.6" ry="6.1" fill="#fff" stroke="#231f20" stroke-width="3"/>
<ellipse cx="331.9" cy="1025.6" rx="6.6" ry="6.1" fill="#fff" stroke="#231f20" stroke-width="3"/>
<ellipse cx="349.2" cy="1025.6" rx="6.6" ry="6.1" fill="#fff" stroke="#231f20" stroke-width="3"/>
<ellipse cx="366.6" cy="1028.7" rx="6.6" ry="6.1" fill="#fff" stroke="#231f20" stroke-width="3"/>
<ellipse cx="383.9" cy="1021.8" rx="6.6" ry="6.1" fill="#fff" stroke="#231f20" stroke-width="3"/>
<ellipse cx="401.3" cy="1009.4" rx="6.6" ry="6.1" fill="#fff" stroke="#231f20" stroke-width="3"/>
<ellipse cx="418.6" cy="997.7" rx="6.6" ry="6.1" fill="#fff" stroke="#231f20" stroke-width="3"/>
<ellipse cx="435.9" cy="992.1" rx="6.6" ry="6.1" fill="#fff" stroke="#231f20" stroke-width="3"/>
<ellipse cx="453.3" cy="968.9" rx="6.6" ry="6.1" fill="#fff" stroke="#231f20" stroke-width="3"/>
<ellipse cx="470.6" cy="994.9" rx="6.6" ry="6.1" fill="#fff" stroke="#231f20" stroke-width="3"/>
<ellipse cx="488" cy="966.7" rx="6.6" ry="6.1" fill="#fff" stroke="#231f20" stroke-width="3"/>
<ellipse cx="505.3" cy="972.2" rx="6.6" ry="6.1" fill="#fff" stroke="#231f20" stroke-width="3"/>
<ellipse cx="522.6" cy="962.4" rx="6.6" ry="6.1" fill="#fff" stroke="#231f20" stroke-width="3"/>
<ellipse cx="540" cy="965.6" rx="6.6" ry="6.1" fill="#fff" stroke="#231f20" stroke-width="3"/>
<ellipse cx="557.3" cy="970.8" rx="6.6" ry="6.1" fill="#fff" stroke="#231f20" stroke-width="3"/>
<ellipse cx="574.7" cy="981.5" rx="6.6" ry="6.1" fill="#fff" stroke="#231f20" stroke-width="3"/>
<ellipse cx="592" cy="968.9" rx="6.6" ry="6.1" fill="#fff" stroke="#231f20" stroke-width="3"/>
<ellipse cx="609.3" cy="988.4" rx="6.6" ry="6.1" fill="#fff" stroke="#231f20" stroke-width="3"/>
<ellipse cx="626.7" cy="1023.4" rx="6.6" ry="6.1" fill="#fff" stroke="#231f20" stroke-width="3"/>
<ellipse cx="644" cy="1031.5" rx="6.6" ry="6.1" fill="#fff" stroke="#231f20" stroke-width="3"/>
<ellipse cx="661.4" cy="1033.8" rx="6.6" ry="6.1" fill="#fff" stroke="#231f20" stroke-width="3"/>
<ellipse cx="678.7" cy="1031" rx="6.6" ry="6.1" fill="#fff" stroke="#231f20" stroke-width="3"/>
<ellipse cx="696" cy="1043.4" rx="6.6" ry="6.1" fill="#fff" stroke="#231f20" stroke-width="3"/>
<ellipse cx="713.4" cy="1053.3" rx="6.6" ry="6.1" fill="#fff" stroke="#231f20" stroke-width="3"/>
<ellipse cx="730.7" cy="1055.7" rx="6.6" ry="6.1" fill="#fff" stroke="#231f20" stroke-width="3"/>
<ellipse cx="748.1" cy="1043" rx="6.6" ry="6.1" fill="#fff" stroke="#231f20" stroke-width="3"/>
<ellipse cx="765.4" cy="1047.7" rx="6.6" ry="6.1" fill="#fff" stroke="#231f20" stroke-width="3"/>
<ellipse cx="782.7" cy="1057" rx="6.6" ry="6.1" fill="#fff" stroke="#231f20" stroke-width="3"/>
<ellipse cx="800.1" cy="1044.6" rx="6.6" ry="6.1" fill="#fff" stroke="#231f20" stroke-width="3"/>
<ellipse cx="817.4" cy="1045" rx="6.6" ry="6.1" fill="#fff" stroke="#231f20" stroke-width="3"/>
<ellipse cx="834.8" cy="1035.3" rx="6.6" ry="6.1" fill="#fff" stroke="#231f20" stroke-width="3"/>
<ellipse cx="852.1" cy="1031.2" rx="6.6" ry="6.1" fill="#fff" stroke="#231f20" stroke-width="3"/>
<ellipse cx="869.4" cy="1023.3" rx="6.6" ry="6.1" fill="#fff" stroke="#231f20" stroke-width="3"/>
<ellipse cx="886.8" cy="1023.3" rx="6.6" ry="6.1" fill="#fff" stroke="#231f20" stroke-width="3"/>
<ellipse cx="904.1" cy="1014.9" rx="6.6" ry="6.1" fill="#fff" stroke="#231f20" stroke-width="3"/>
<ellipse cx="921.5" cy="1014" rx="6.6" ry="6.1" fill="#fff" stroke="#231f20" stroke-width="3"/>
<ellipse cx="938.8" cy="1012.7" rx="6.6" ry="6.1" fill="#fff" stroke="#231f20" stroke-width="3"/>
<ellipse cx="956.1" cy="1014" rx="6.6" ry="6.1" fill="#fff" stroke="#231f20" stroke-width="3"/>
</g>
</svg>
</body></html>
